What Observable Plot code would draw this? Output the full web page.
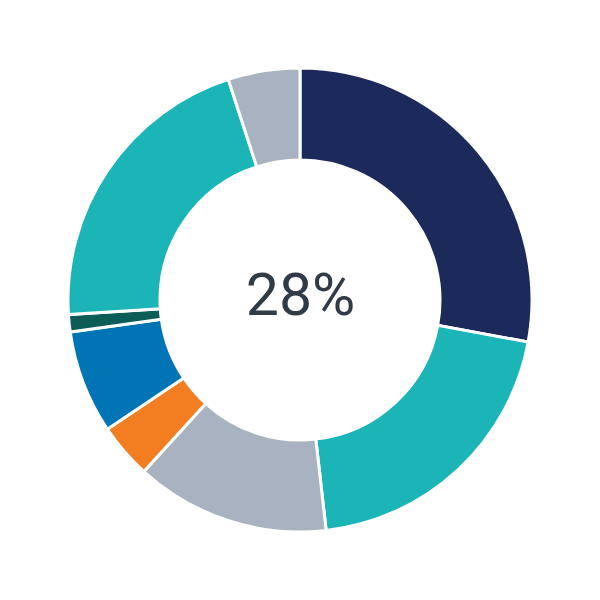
<!DOCTYPE html>
<html>
<head>
<meta charset="utf-8">
<script src="https://cdn.jsdelivr.net/npm/d3@7"></script>
<script src="https://cdn.jsdelivr.net/npm/@observablehq/plot@0.6"></script>
<style>
  html, body { margin: 0; padding: 0; background: #fff; }
</style>
</head>
<body>
<div id="chart"></div>
<script>
const segments = ["Navy", "Teal A", "Gray A", "Orange", "Blue", "Dark green", "Teal B", "Gray B"];
const shares = [27.9, 20.3, 13.55, 3.85, 7.2, 1.2, 21, 5];
const colors = ["#1b2a5b", "#1bb5b7", "#a8b2c1", "#f37d21", "#0074b4", "#0c5c57", "#1bb5b7", "#a8b2c1"];
const centerLabel = "28%";

const data = segments.map((name, i) => ({name, value: shares[i], color: colors[i]}));
const outerR = 232, innerR = 140;

const donut = (index, scales) => {
  const cx = scales.x(0), cy = scales.y(0);
  const rOuter = Math.abs(scales.x(outerR) - cx);
  const rInner = Math.abs(scales.x(innerR) - cx);
  const arcs = d3.pie().sort(null).value(d => d.value)(data);
  const arc = d3.arc().innerRadius(rInner).outerRadius(rOuter);
  const g = d3.create("svg:g").attr("transform", `translate(${cx},${cy})`);
  g.selectAll("path").data(arcs).join("path")
    .attr("d", arc)
    .attr("fill", d => d.data.color)
    .attr("stroke", "#fff")
    .attr("stroke-width", 3)
    .attr("stroke-linejoin", "miter");
  return g.node();
};

const chart = Plot.plot({
  width: 600,
  height: 600,
  margin: 0,
  x: {domain: [-300, 300], range: [0, 600], axis: null},
  y: {domain: [-300, 300], range: [600, 0], axis: null},
  style: {background: "#fff"},
  marks: [
    donut,
    Plot.text([centerLabel], {x: 0, y: 4.5, text: d => d, fontSize: 59, fill: "#313b47", fontFamily: "Roboto, sans-serif", textAnchor: "middle", lineAnchor: "middle"})
  ]
});
document.getElementById("chart").append(chart);
</script>
</body>
</html>
